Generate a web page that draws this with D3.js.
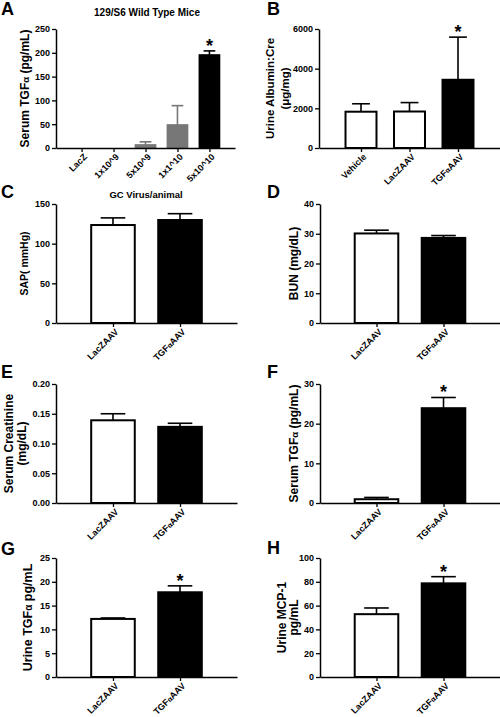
<!DOCTYPE html>
<html>
<head>
<meta charset="utf-8">
<script src="https://cdn.jsdelivr.net/npm/d3@7"></script>
<style>
  body { margin: 0; background: #fff; }
  svg { font-family: "Liberation Sans", Arial, sans-serif; font-weight: bold; }
</style>
</head>
<body>
<svg id="fig" width="500" height="717"></svg>
<script>
// ---- data ----
var doseLabels = ["LacZ", "1x10^9", "5x10^9", "1x1^10", "5x10^10"];
var doseMeans  = [0, 0, 6, 48, 195];
var doseSem    = [0, 0, 7, 41, 9];
var doseStars  = [false, false, false, false, true];
var doseTicks  = [0, 50, 100, 150, 200, 250];

var albLabels = ["Vehicle", "LacZAAV", "TGFαAAV"];
var albMeans  = [1830, 1840, 3440];
var albSem    = [400, 450, 2150];
var albStars  = [false, false, true];
var albTicks  = [0, 2000, 4000, 6000];

var aavLabels = ["LacZAAV", "TGFαAAV"];

var sapMeans = [123.5, 129.8];
var sapSem   = [9, 8];
var sapTicks = [0, 50, 100, 150];

var bunMeans = [30.1, 28.6];
var bunSem   = [1.1, 0.8];
var bunTicks = [0, 10, 20, 30, 40];

var creMeans = [0.139, 0.128];
var creSem   = [0.011, 0.006];
var creTicks = [0, 0.05, 0.10, 0.15, 0.20];

var sTgfMeans = [0.95, 23.9];
var sTgfSem   = [0.45, 2.7];
var sTgfStars = [false, true];
var sTgfTicks = [0, 10, 20, 30];

var uTgfMeans = [12.2, 17.8];
var uTgfSem   = [0.2, 1.35];
var uTgfStars = [false, true];
var uTgfTicks = [0, 5, 10, 15, 20, 25];

var mcpMeans = [52.8, 78.7];
var mcpSem   = [5.2, 5.6];
var mcpStars = [false, true];
var mcpTicks = [0, 20, 40, 60, 80, 100];

// ---- panel layout ----
var left  = {x0: 56, x1: 237};
var right = {x0: 320, x1: 500};

var panels = [
  {letter: "A", lx: 1, ly: 15, x0: 56, x1: 235, pad: 0.8, yTop: 29, yBot: 148,
   labels: doseLabels, means: doseMeans, sem: doseSem, stars: doseStars, ticks: doseTicks,
   fills: ["#777", "#777", "#777", "#777", "#000"], strokes: ["#777", "#777", "#777", "#777", "#000"],
   yTitle: ["Serum TGFα (pg/mL)"], titleX: [25], fmt: d3.format("d")},
  {letter: "B", lx: 267, ly: 15, x0: 319, x1: 500, pad: 0.866, yTop: 29, yBot: 148,
   labels: albLabels, means: albMeans, sem: albSem, stars: albStars, ticks: albTicks,
   fills: ["#fff", "#fff", "#000"], strokes: ["#000", "#000", "#000"],
   yTitle: ["Urine Albumin:Cre", "(μg/mg)"], titleX: [270, 285], titleSize: 11.5, fmt: d3.format("d")},
  {letter: "C", lx: 1, ly: 198, x0: left.x0, x1: left.x1, pad: 0.85, yTop: 204, yBot: 323,
   labels: aavLabels, means: sapMeans, sem: sapSem, stars: [false, false], ticks: sapTicks,
   fills: ["#fff", "#000"], strokes: ["#000", "#000"],
   yTitle: ["SAP( mmHg)"], titleX: [24], titleSize: 10.5, fmt: d3.format("d")},
  {letter: "D", lx: 267, ly: 198, x0: right.x0, x1: right.x1, pad: 0.843, yTop: 204, yBot: 323,
   labels: aavLabels, means: bunMeans, sem: bunSem, stars: [false, false], ticks: bunTicks,
   fills: ["#fff", "#000"], strokes: ["#000", "#000"],
   yTitle: ["BUN (mg/dL)"], titleX: [294], fmt: d3.format("d")},
  {letter: "E", lx: 1, ly: 378, x0: left.x0, x1: left.x1, pad: 0.85, yTop: 384, yBot: 503,
   labels: aavLabels, means: creMeans, sem: creSem, stars: [false, false], ticks: creTicks,
   fills: ["#fff", "#000"], strokes: ["#000", "#000"],
   yTitle: ["Serum Creatinine", "(mg/dL)"], titleX: [9, 22], fmt: d3.format(".2f")},
  {letter: "F", lx: 267, ly: 378, x0: right.x0, x1: right.x1, pad: 0.843, yTop: 384, yBot: 503,
   labels: aavLabels, means: sTgfMeans, sem: sTgfSem, stars: sTgfStars, ticks: sTgfTicks,
   fills: ["#fff", "#000"], strokes: ["#000", "#000"],
   yTitle: ["Serum  TGFα (pg/mL)"], titleX: [294], fmt: d3.format("d")},
  {letter: "G", lx: 1, ly: 555, x0: left.x0, x1: left.x1, pad: 0.85, yTop: 558, yBot: 677,
   labels: aavLabels, means: uTgfMeans, sem: uTgfSem, stars: uTgfStars, ticks: uTgfTicks,
   fills: ["#fff", "#000"], strokes: ["#000", "#000"],
   yTitle: ["Urine TGFα pg/mL"], titleX: [27.5], titleSize: 12.5, fmt: d3.format("d")},
  {letter: "H", lx: 267, ly: 554, x0: right.x0, x1: right.x1, pad: 0.843, yTop: 558, yBot: 677,
   labels: aavLabels, means: mcpMeans, sem: mcpSem, stars: mcpStars, ticks: mcpTicks,
   fills: ["#fff", "#000"], strokes: ["#000", "#000"],
   yTitle: ["Urine MCP-1", "pg/mL"], titleX: [282, 294], fmt: d3.format("d")}
];

var svg = d3.select("#fig");

// text with a smaller alpha, like the figure
function fillText(sel, str) {
  str.split(/(α)/).forEach(function(part) {
    if (!part) return;
    var t = sel.append("tspan").text(part);
    if (part === "α") t.attr("font-size", "0.8em");
  });
}

panels.forEach(function(p) {
  var g = svg.append("g");

  var x = d3.scalePoint().domain(p.labels).range([p.x0, p.x1]).padding(p.pad);
  var y = d3.scaleLinear().domain([p.ticks[0], p.ticks[p.ticks.length - 1]]).range([p.yBot, p.yTop]);
  var bw = x.step() * 0.68;

  var rows = p.means.map(function(m, i) {
    return {label: p.labels[i], mean: m, sem: p.sem[i], star: p.stars[i],
            fill: p.fills[i], stroke: p.strokes[i]};
  });

  // bars
  g.selectAll("rect.bar")
    .data(rows.filter(function(d) { return d.mean > 0; }))
    .enter().append("rect")
    .attr("class", "bar")
    .attr("x", function(d) { return x(d.label) - bw / 2 + 1; })
    .attr("width", bw - 2)
    .attr("y", function(d) { return y(d.mean); })
    .attr("height", function(d) { return y(0) - y(d.mean); })
    .attr("fill", function(d) { return d.fill; })
    .attr("stroke", function(d) { return d.stroke; })
    .attr("stroke-width", 2);

  // error bars (upper only)
  var eb = g.selectAll("g.err")
    .data(rows.filter(function(d) { return d.sem > 0; }))
    .enter().append("g")
    .attr("class", "err")
    .attr("stroke", function(d) { return d.stroke; })
    .attr("stroke-width", 1.6);
  eb.append("line")
    .attr("x1", function(d) { return x(d.label); })
    .attr("x2", function(d) { return x(d.label); })
    .attr("y1", function(d) { return y(d.mean); })
    .attr("y2", function(d) { return y(d.mean + d.sem); });
  eb.append("line")
    .attr("x1", function(d) { return x(d.label) - bw * 0.27; })
    .attr("x2", function(d) { return x(d.label) + bw * 0.27; })
    .attr("y1", function(d) { return y(d.mean + d.sem); })
    .attr("y2", function(d) { return y(d.mean + d.sem); });

  // significance stars
  g.selectAll("text.star")
    .data(rows.filter(function(d) { return d.star; }))
    .enter().append("text")
    .attr("class", "star")
    .attr("x", function(d) { return x(d.label); })
    .attr("y", function(d) { return y(d.mean + d.sem) + 1; })
    .attr("text-anchor", "middle")
    .attr("font-size", 18)
    .text("*");

  // y axis
  var ya = g.append("g")
    .attr("transform", "translate(" + p.x0 + ",0)")
    .call(d3.axisLeft(y).tickValues(p.ticks).tickFormat(p.fmt).tickSize(4).tickSizeOuter(0).tickPadding(2));
  ya.attr("font-family", null).attr("font-size", null);
  ya.select(".domain").attr("stroke-width", 1.5);
  ya.selectAll(".tick line").attr("stroke-width", 1.3);
  ya.selectAll("text").attr("font-size", 9);

  // x axis
  var xa = g.append("g")
    .attr("transform", "translate(0," + p.yBot + ")")
    .call(d3.axisBottom(x).tickSize(4).tickSizeOuter(0));
  xa.attr("font-family", null).attr("font-size", null);
  xa.select(".domain").attr("stroke-width", 1.5);
  xa.selectAll(".tick line").attr("stroke-width", 1.3);
  xa.selectAll(".tick text").remove();
  xa.selectAll(".tick").append("g")
    .attr("transform", "translate(1,5) rotate(-45)")
    .append("text")
    .attr("fill", "#000")
    .attr("font-size", 9)
    .attr("text-anchor", "end")
    .attr("dy", "0.7em")
    .each(function(d) { fillText(d3.select(this), d); });

  // y title
  p.yTitle.forEach(function(line, k) {
    var t = g.append("text")
      .attr("transform", "translate(" + p.titleX[k] + "," + ((p.yTop + p.yBot) / 2) + ") rotate(-90)")
      .attr("text-anchor", "middle")
      .attr("dy", "0.35em")
      .attr("font-size", p.titleSize || 12);
    fillText(t, line);
  });

  // panel letter
  g.append("text")
    .attr("x", p.lx).attr("y", p.ly)
    .attr("font-size", 18)
    .text(p.letter);
});

// panel A headings
svg.append("text").attr("x", 147).attr("y", 16).attr("text-anchor", "middle")
  .attr("font-size", 10).text("129/S6 Wild Type Mice");
svg.append("text").attr("x", 146).attr("y", 198).attr("text-anchor", "middle")
  .attr("font-size", 9.5).text("GC Virus/animal");
</script>
</body>
</html>
